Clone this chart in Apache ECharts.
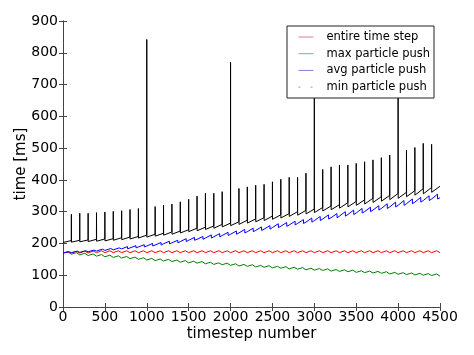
<!DOCTYPE html>
<html><head><meta charset="utf-8">
<script src="https://cdn.jsdelivr.net/npm/echarts@6/dist/echarts.min.js"></script>
<style>html,body{margin:0;padding:0;background:#fff}#c{width:474px;height:355px}</style>
</head><body><div id="c"></div>
<script>
// x ticks / y ticks
const xTicks = [0,500,1000,1500,2000,2500,3000,3500,4000,4500];
const yTicks = [0,100,200,300,400,500,600,700,800,900];
const legendNames = ['entire time step','max particle push','avg particle push','min particle push'];

// black line (with spikes): value at start of each 100-step period (t=0..4500)
const blackLow = [203,204,205,206,207,208,210,212,214,217,220,223,226,229,233,237,240,244,248,252,256,260,264,268,272,276,280,285,289,293,297,302,306,311,315,320,324,329,333,338,342,347,352,356,361,366];
// value at end of each period (just before spike)
const blackHigh = [209,210,211,213,214,215,218,220,222,226,229,232,236,239,243,248,251,255,260,264,268,273,277,281,286,290,294,300,304,308,313,318,322,328,332,337,342,347,351,357,361,366,372,376,380];
// spike heights at t=100..4400
const spikes = [292,295,295,297,299,301,303,307,310,842,316,321,324,331,339,349,358,358,363,770,373,378,383,386,394,402,408,408,421,860,433,441,447,447,452,457,463,470,478,865,494,502,515,512];

// blue line
const blueLow = [170,171,172,174,176,178,180,183,186,189,192,195,199,202,206,210,213,217,221,225,229,233,237,241,245,250,254,258,263,267,272,277,281,286,291,296,300,305,310,315,320,325,330,335,340,344];
const blueHigh = [174,176,177,179,182,184,186,190,193,196,200,203,207,210,215,219,222,227,231,235,239,244,248,252,256,262,266,270,275,280,285,290,294,300,305,310,314,319,325,330,335,340,345,350,355];

// red line
const redLow = [170,170,170,170,171,171,171,171,171,171,171,171,171,171,171,171,171,171,171,171,171,171,171,171,171,171,171,171,171,171,171,171,171,171,171,171,171,171,171,171,171,171,171,171,171,171];
const redHigh = [174,175,176,176,177,177,177,177,177,177,177,177,177,177,177,177,177,177,177,177,177,177,177,177,177,177,177,177,177,177,177,177,177,177,177,177,177,177,177,177,177,177,177,177,177];

// green line
const greenLow = [170,166,164,162,160,158,156,154,152,150,148,146,145,143,141,139,138,136,134,133,131,129,128,126,125,123,122,120,119,117,116,115,113,112,111,109,108,107,106,104,103,102,101,100,99,97];
const greenHigh = [173,171,169,167,165,163,161,159,157,155,153,151,150,148,146,144,143,141,139,138,136,134,133,131,130,128,127,125,124,122,121,120,118,117,116,114,113,112,111,109,108,107,106,105,104];

function sawData(lows, highs, rise) {
  const d = [];
  for (let k = 0; k < highs.length; k++) {
    const t0 = k * 100;
    d.push([t0, lows[k]]);
    d.push([t0 + rise, highs[k]]);
    d.push([t0 + rise + 1, lows[k]]);
  }
  d.push([xTicks[xTicks.length - 1], lows[lows.length - 1]]);
  return d;
}
function spikeData() {
  const d = [];
  for (let k = 0; k < blackHigh.length; k++) {
    const t0 = k * 100;
    d.push([k === 0 ? 0 : t0 + 1, blackLow[k]]);
    if (k < spikes.length) {
      d.push([t0 + 99, blackHigh[k]]);
      d.push([t0 + 100, spikes[k]]);
    } else {
      d.push([xTicks[xTicks.length - 1], blackHigh[k]]);
    }
  }
  return d;
}

const chart = echarts.init(document.getElementById('c'), null, {renderer: 'canvas'});
const font = 'DejaVu Sans';
const axisLineStyle = {color: '#444', width: 1};
const common = {
  type: 'value',
  axisLine: {show: true, lineStyle: axisLineStyle},
  axisTick: {show: true, inside: true, length: 4, lineStyle: axisLineStyle},
  splitLine: {show: false}
};
const plain = v => String(v);
const hidden = {color: 'rgba(0,0,0,0)', borderWidth: 0, opacity: 0};
chart.setOption({
  animation: false,
  backgroundColor: '#fff',
  textStyle: {fontFamily: font},
  grid: {left: 63, right: 34, top: 21, bottom: 48},
  graphic: {elements: [{
    type: 'rect', zlevel: 10, z: 100, silent: true,
    shape: {x: 287, y: 26, width: 147, height: 72},
    style: {fill: '#ffffff', stroke: '#222', lineWidth: 1}
  }]},
  xAxis: [
    Object.assign({}, common, {
      position: 'bottom', min: xTicks[0], max: xTicks[xTicks.length-1], interval: 500,
      name: 'timestep number', nameLocation: 'middle', nameGap: 20, nameMoveOverlap: false,
      nameTextStyle: {fontSize: 15, color: '#000', fontFamily: font},
      axisLabel: {fontSize: 14, color: '#000', margin: 3, fontFamily: font, formatter: plain}
    }),
    Object.assign({}, common, {
      position: 'top', min: xTicks[0], max: xTicks[xTicks.length-1], interval: 500,
      axisLabel: {show: false}
    })
  ],
  yAxis: [
    Object.assign({}, common, {
      position: 'left', min: yTicks[0], max: yTicks[yTicks.length-1], interval: 100,
      name: 'time [ms]', nameLocation: 'middle', nameGap: 34, nameRotate: 90, nameMoveOverlap: false,
      nameTextStyle: {fontSize: 15, color: '#000', fontFamily: font},
      axisLabel: {fontSize: 14, color: '#000', margin: 5, fontFamily: font, formatter: plain}
    }),
    Object.assign({}, common, {
      position: 'right', min: yTicks[0], max: yTicks[yTicks.length-1], interval: 100,
      axisLabel: {show: false}
    })
  ],
  legend: {
    left: 287, top: 26, orient: 'vertical', zlevel: 10, z: 200,
    padding: [5, 6, 5, 11],
    itemWidth: 15, itemHeight: 12, itemGap: 4.7,
    textStyle: {fontSize: 11.5, color: '#000', fontFamily: font, lineHeight: 12, padding: [0,0,0,8]},
    data: [
      {name: legendNames[0], itemStyle: hidden, lineStyle: {color: '#e07f8a', width: 1}},
      {name: legendNames[1], itemStyle: hidden, lineStyle: {color: '#7fb08a', width: 1}},
      {name: legendNames[2], itemStyle: hidden, lineStyle: {color: '#7f7fe0', width: 1}},
      {name: legendNames[3], itemStyle: hidden, lineStyle: {color: '#999', width: 1, type: [2, 10]}}
    ]
  },
  series: [
    {name: legendNames[1], type: 'line', symbol: 'none', data: sawData(greenLow, greenHigh, 60),
     lineStyle: {color: '#008000', width: 1}, itemStyle: {color: '#008000'}, zlevel: 0, z: 2},
    {name: legendNames[0], type: 'line', symbol: 'none', data: sawData(redLow, redHigh, 60),
     lineStyle: {color: '#ff0000', width: 1}, itemStyle: {color: '#ff0000'}, zlevel: 0, z: 2},
    {name: legendNames[2], type: 'line', symbol: 'none', data: sawData(blueLow, blueHigh, 70),
     lineStyle: {color: '#0000ff', width: 1}, itemStyle: {color: '#0000ff'}, zlevel: 0, z: 2},
    {name: legendNames[3], type: 'line', symbol: 'none', data: spikeData(),
     lineStyle: {color: '#000', width: 1}, itemStyle: {color: '#000'}, zlevel: 0, z: 2}
  ]
});
</script></body></html>
